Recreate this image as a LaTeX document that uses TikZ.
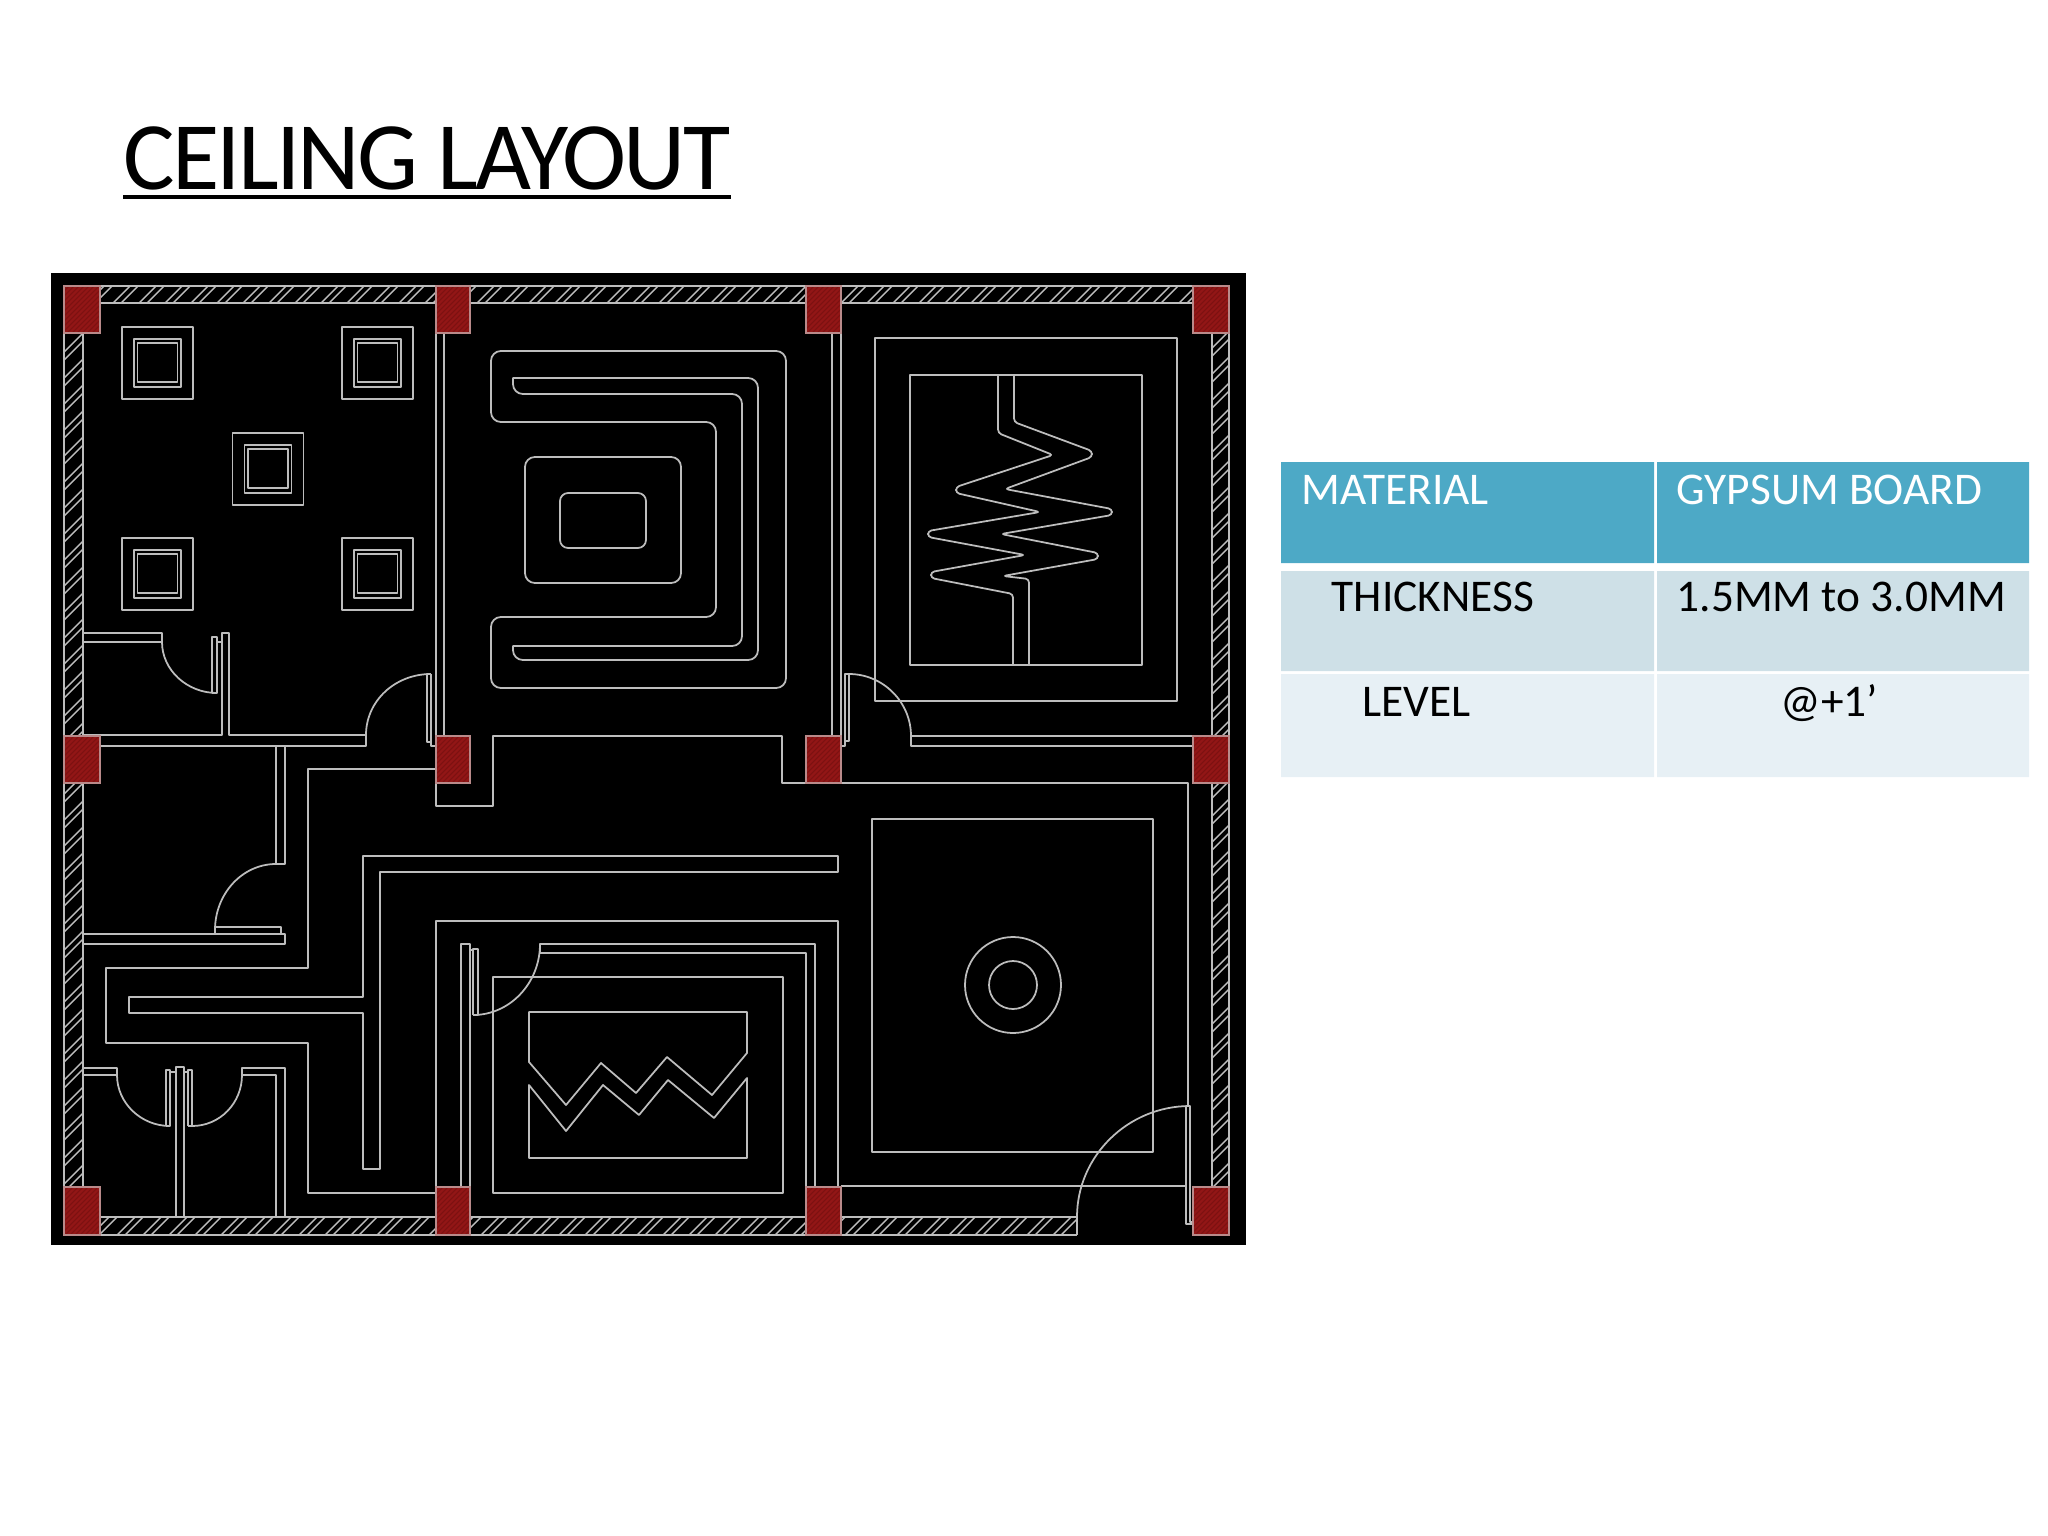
\documentclass[tikz,border=0pt]{standalone}
\usepackage{fontspec}
\setmainfont{Carlito}
\definecolor{planline}{HTML}{BDBDBD}
\definecolor{colred}{HTML}{921616}
\definecolor{coldark}{HTML}{7C1111}
\definecolor{coledge}{HTML}{B98A8A}
\definecolor{headblue}{HTML}{4DA9C6}
\definecolor{rowmid}{HTML}{CEE0E7}
\definecolor{rowpale}{HTML}{E7F0F5}
\newcommand{\colrects}{\foreach \xa/\xb in {64/100,436/470,806/841,1193/1229} {\foreach \ya/\yb in {286/333,736/783,1187/1235} {(\xa,\ya) rectangle (\xb,\yb)}}}
\newcommand{\ceilfix}[2]{
	\begin{scope}[shift={(#1,#2)}]
		\draw[plan] (-35.5,-36) rectangle (35.5,36);
		\draw[plan] (-23.5,-24) rectangle (23.5,24);
		\draw[plan] (-20,-20) rectangle (20,19);
	\end{scope}
}
\tikzset{
	plan/.style={draw=planline,line width=0.5pt,line join=round},
	hatching/.style={draw=planline,line width=0.4pt},
	cell/.style={anchor=base west,inner sep=0pt,font=\fontsize{12.9pt}{14pt}\selectfont}
}

\begin{document}
\begin{tikzpicture}[x=0.01cm,y=-0.01cm]
	\useasboundingbox (0,0) rectangle (2048,1536);
	\fill[black] (51,273) rectangle (1246,1245);
	\begin{scope}
		\clip (64,286) rectangle (1229,303) (64,333) rectangle (83,1187) (1212,333) rectangle (1229,1187) (100,1217) rectangle (1077,1235);
		\foreach \hc in {338,364,...,2470}
			\draw[hatching] (\hc,0) -- (0,\hc) (\hc+8,0) -- (0,\hc+8);
	\end{scope}
	\draw[plan] (64,303) -- (1229,303) (64,286) -- (1229,286) (83,333) -- (83,1187) (64,333) -- (64,1187);
	\draw[plan] (1212,333) -- (1212,1187) (1229,333) -- (1229,1187);
	\draw[plan] (100,1217) -- (1077,1217) (100,1235) -- (1077,1235) (1077,1217) -- (1077,1235);
	\ceilfix{157.5}{363}
	\ceilfix{377.5}{363}
	\ceilfix{268}{469}
	\ceilfix{157.5}{574}
	\ceilfix{377.5}{574}
	\draw[plan] (444,333) -- (444,736) (832,333) -- (832,736) (436,333) -- (436,736) (841,333) -- (841,736);
	\draw[plan] (83,735) -- (222,735) -- (222,633) -- (229,633) -- (229,735) -- (366,735) -- (366,746) -- (100,746);
	\draw[plan] (83,633) -- (162,633) -- (162,642) -- (83,642);
	\draw[plan] (162,642) .. controls (162,670) and (187,693) .. (217,693);
	\draw[plan] (212,693) -- (212,637) -- (217,637) -- (217,693) -- (212,693) (217,642) -- (222,642);
	\draw[plan] (366,735) .. controls (366,701) and (395,674) .. (431,674);
	\draw[plan] (431,674) -- (427,674) -- (427,742) -- (431,742) (431,674) -- (431,746) -- (436,746);
	\draw[plan,rounded corners=2.8pt] (491,351) -- (786,351) -- (786,688) -- (491,688) -- (491,617) -- (716,617) -- (716,422) -- (491,422) -- cycle;
	\draw[plan,rounded corners=2.8pt] (513,378) -- (758,378) -- (758,660) -- (513,660) [sharp corners] -- (513,646) [rounded corners=2.8pt] -- (742,646) -- (742,394) -- (513,394) [sharp corners] -- cycle;
	\draw[plan,rounded corners=2.8pt] (525,457) rectangle (681,583);
	\draw[plan,rounded corners=2.3pt] (560,493) rectangle (646,548);
	\draw[plan] (436,783) -- (436,806) -- (493,806) -- (493,736) -- (782,736) -- (782,783) -- (806,783);
	\draw[plan] (875,338) rectangle (1177,701);
	\draw[plan] (910,375) rectangle (1142,665);
	\draw[plan,rounded corners=1pt] (998,375) -- (998,433) -- (1053,455) -- (956,487) -- (956,493) -- (1040,512) -- (928,531) -- (928,537) -- (1025,555) -- (931,572) -- (931,578) -- (1013,594) -- (1013,665);
	\draw[plan,rounded corners=1pt] (1014,375) -- (1014,422) -- (1092,451) -- (1092,457) -- (1005,489) -- (1112,509) -- (1112,515) -- (1001,534) -- (1098,553) -- (1098,559) -- (1003,576) -- (1029,579) -- (1029,665);
	\draw[plan] (841,746) -- (845,746) -- (845,674) -- (849,674) -- (849,741) -- (845,741);
	\draw[plan] (849,674) .. controls (883,674) and (911,702) .. (911,736);
	\draw[plan] (1193,736) -- (911,736) -- (911,746) -- (1193,746);
	\draw[plan] (841,783) -- (1188,783) -- (1188,1106);
	\draw[plan] (1186,1106) -- (1190,1106) -- (1190,1222) -- (1193,1222) (1186,1106) -- (1186,1224) -- (1193,1224);
	\draw[plan] (1190,1106) .. controls (1128,1106) and (1077,1156) .. (1077,1217);
	\draw[plan] (841,1186) -- (1186,1186);
	\draw[plan] (872,819) rectangle (1153,1152);
	\draw[plan] (1013,985) circle [radius=48];
	\draw[plan] (1013,985) circle [radius=24];
	\draw[plan] (276,746) -- (276,864) -- (285,864) -- (285,746);
	\draw[plan] (276,864) .. controls (242,864) and (215,894) .. (215,930);
	\draw[plan] (215,934) -- (215,927) -- (281,927) -- (281,934);
	\draw[plan] (83,934) -- (285,934) -- (285,944) -- (83,944);
	\draw[plan] (436,769) -- (308,769) -- (308,968) -- (106,968) -- (106,1043) -- (308,1043) -- (308,1193) -- (436,1193);
	\draw[plan] (838,856) -- (363,856) -- (363,997) -- (129,997) -- (129,1013) -- (363,1013) -- (363,1169) -- (380,1169) -- (380,872) -- (838,872) -- cycle;
	\draw[plan] (83,1068) -- (117,1068) -- (117,1075) -- (83,1075);
	\draw[plan] (117,1075) .. controls (117,1103) and (141,1126) .. (170,1126);
	\draw[plan] (166,1126) -- (166,1070) -- (170,1070) -- (170,1126) -- (166,1126) (170,1072) -- (176,1072);
	\draw[plan] (176,1217) -- (176,1067) -- (184,1067) -- (184,1217) (184,1072) -- (188,1072);
	\draw[plan] (188,1126) -- (188,1070) -- (192,1070) -- (192,1126) -- (188,1126);
	\draw[plan] (192,1126) .. controls (220,1126) and (242,1103) .. (242,1075);
	\draw[plan] (242,1075) -- (242,1068) -- (285,1068) -- (285,1217) (242,1075) -- (276,1075) -- (276,1217);
	\draw[plan] (436,1187) -- (436,921) -- (838,921) -- (838,1187);
	\draw[plan] (461,1187) -- (461,944) -- (470,944) -- (470,1187) (470,950) -- (473,950);
	\draw[plan] (473,1015) -- (473,949) -- (478,949) -- (478,1015) -- (473,1015);
	\draw[plan] (473,1015) .. controls (510,1015) and (540,983) .. (540,944);
	\draw[plan] (815,1187) -- (815,944) -- (540,944) -- (540,953) -- (806,953) -- (806,1187);
	\draw[plan] (493,977) rectangle (783,1193);
	\draw[plan] (529,1012) -- (747,1012) -- (747,1053) -- (712,1095) -- (667,1057) -- (636,1093) -- (601,1063) -- (566,1105) -- (529,1062) -- cycle;
	\draw[plan] (529,1085) -- (566,1131) -- (603,1085) -- (639,1115) -- (668,1080) -- (714,1118) -- (747,1078) -- (747,1158) -- (529,1158) -- cycle;
	\fill[colred] \colrects;
	\begin{scope}
		\clip \colrects;
		\foreach \hc in {350,355,...,2470}
			\draw[coldark,line width=0.3pt] (\hc,0) -- (0,\hc);
	\end{scope}
	\draw[coledge,line width=0.4pt] \colrects;
	\node[anchor=base west,inner xsep=0pt,inner ysep=0.07cm,font=\fontsize{27.5pt}{30pt}\selectfont\addfontfeature{LetterSpace=-2.9}] (title) at (123,189) {CEILING LAYOUT};
	\draw[line width=1.1pt] (title.south west) -- (title.south east);
	\fill[headblue] (1281,462) rectangle (1654,563) (1657,462) rectangle (2029,563);
	\fill[rowmid] (1281,571) rectangle (1654,671) (1657,571) rectangle (2029,671);
	\fill[rowpale] (1281,674) rectangle (1654,777) (1657,674) rectangle (2029,777);
	\node[cell,text=white] (matlabel) at (1301,504) {MATERIAL};
	\node[cell,text=white] (matvalue) at (1676,504) {GYPSUM BOARD};
	\node[cell] (thicklabel) at (1331,611) {THICKNESS};
	\node[cell] (thickvalue) at (1676,611) {1.5MM to 3.0MM};
	\node[cell] (levellabel) at (1362,716) {LEVEL};
	\node[cell] (levelvalue) at (1780,716) {@+1’};
\end{tikzpicture}
\end{document}
